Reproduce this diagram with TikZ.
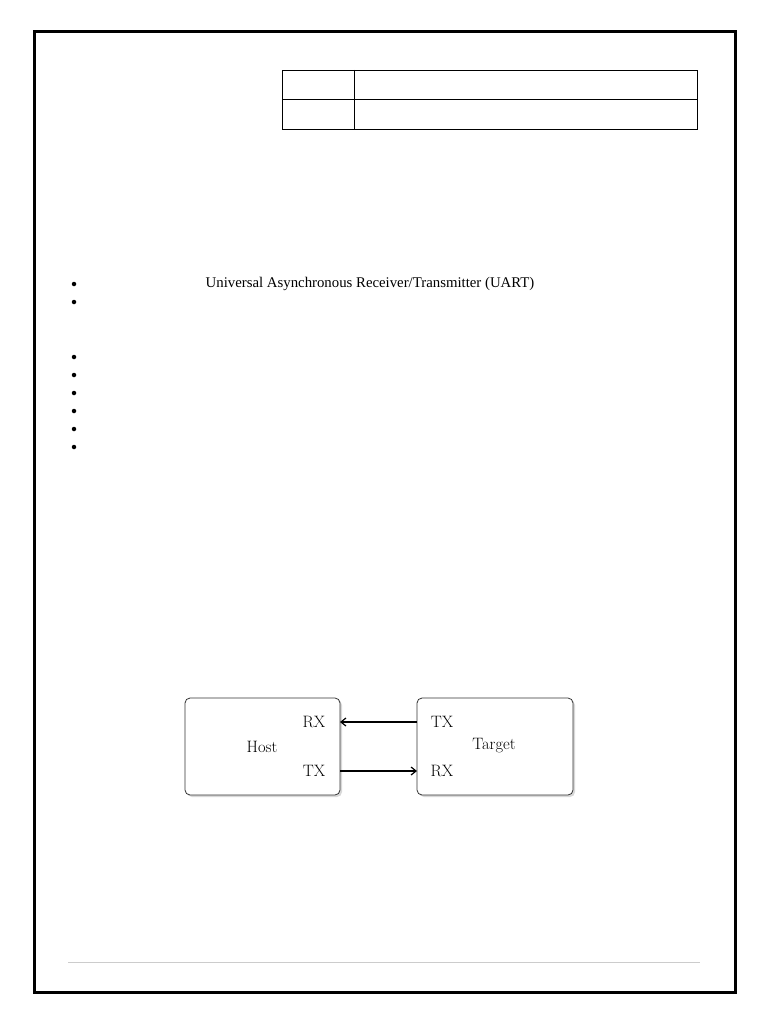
\documentclass[tikz,border=0pt]{standalone}
\usepackage{fontspec}
\newfontfamily\docfont{Liberation Serif}
\usetikzlibrary{shadows,arrows.meta}
\begin{document}
\begin{tikzpicture}[x=1pt,y=-1pt,
  blk/.style={draw=black!80,rounded corners=5pt,fill=white,line width=0.8pt,drop shadow={shadow xshift=2pt,shadow yshift=-2pt,opacity=0.3}},
  lbl/.style={font=\fontsize{16.5}{18}\selectfont,inner sep=0pt},
  bul/.style={circle,fill=black,inner sep=0pt,minimum size=4.5pt},
  arr/.style={-{Straight Barb[length=5pt,width=8pt,line width=1.2pt]},line width=1.3pt}]
\useasboundingbox (0,0) rectangle (768,1024);
\fill[white] (0,0) rectangle (768,1024);
\draw[line width=3pt] (34,32) rectangle (735,992);
% table
\draw[line width=0.9pt] (282,70) rectangle (697,129);
\draw[line width=0.9pt] (282,99.5) -- (697,99.5);
\draw[line width=0.9pt] (354,70) -- (354,129);
% bullets
\foreach \y/\n in {284/b1,302/b2,357/b3,375/b4,393/b5,411/b6,429/b7,447/b8}
  \node[bul] (\n) at (74,\y) {};
\node[font=\docfont\fontsize{14.8}{16}\selectfont,inner sep=0pt] (uart) at (370,284) {Universal Asynchronous Receiver/Transmitter (UART)};
% footer line
\draw[black!20,line width=0.6pt] (68,962) -- (700,962);
% diagram
\node[blk,minimum width=155pt,minimum height=97pt] (host) at (262.5,746.5) {};
\node[blk,minimum width=156pt,minimum height=97pt] (target) at (495,746.5) {};
\node[lbl] (hostl) at (262,747) {Host};
\node[lbl] (hrx) at (314,722) {RX};
\node[lbl] (htx) at (314,771) {TX};
\node[lbl] (ttx) at (442,722) {TX};
\node[lbl] (trx) at (442,771) {RX};
\node[lbl] (targetl) at (494,746) {Target};
\coordinate (a1) at (340,722);
\coordinate (a2) at (417,722);
\coordinate (b1) at (340,771);
\coordinate (b2) at (417,771);
\draw[arr] (a2) -- (a1);
\draw[arr] (b1) -- (b2);
\end{tikzpicture}
\end{document}
